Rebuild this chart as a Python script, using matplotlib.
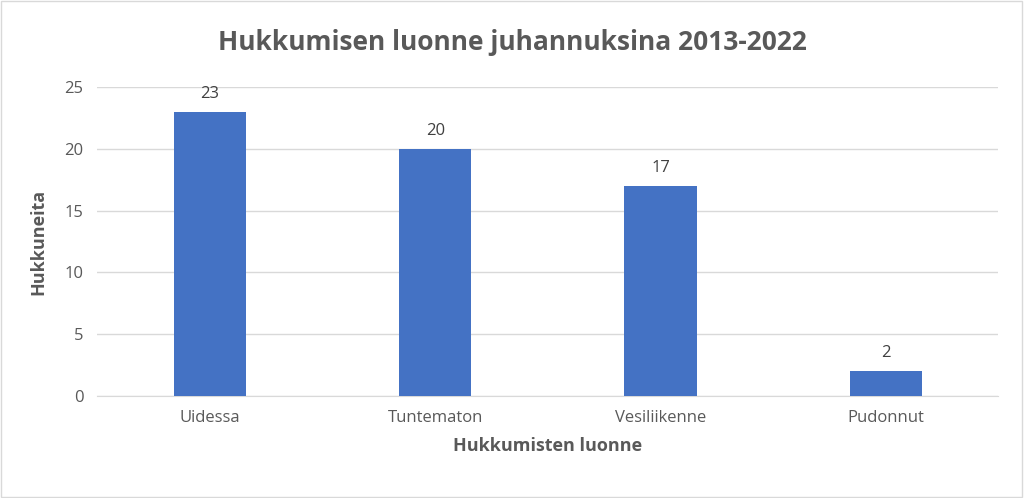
import matplotlib.pyplot as plt

categories = ["Uidessa", "Tuntematon", "Vesiliikenne", "Pudonnut"]
values = [23, 20, 17, 2]
yticks = [0, 5, 10, 15, 20, 25]

plt.rcParams['font.family'] = ['Open Sans', 'DejaVu Sans']

fig = plt.figure(figsize=(10.24, 4.98), dpi=100)
ax = fig.add_axes([0.095, 0.205, 0.88, 0.62])

x = range(len(categories))
ax.bar(x, values, width=0.32, color="#4472C4", zorder=3)
for i, v in zip(x, values):
    ax.text(i, v + 0.8, str(v), ha="center", va="bottom", fontsize=12, color="#404040")

ax.set_xlim(-0.5, 3.5)
ax.set_ylim(0, 25)
ax.set_yticks(yticks)
ax.set_xticks(list(x))
ax.set_xticklabels(categories)
ax.tick_params(axis="both", length=0, labelsize=12, colors="#595959", pad=10)
ax.grid(axis="y", color="#D9D9D9", linewidth=1, zorder=0)
for s in ["top", "right", "left"]:
    ax.spines[s].set_visible(False)
ax.spines["bottom"].set_color("#D9D9D9")

ax.set_ylabel("Hukkuneita", fontsize=13, fontweight="bold", color="#595959", labelpad=12)
ax.set_xlabel("Hukkumisten luonne", fontsize=13, fontweight="bold", color="#595959", labelpad=8)
fig.text(0.5, 0.915, "Hukkumisen luonne juhannuksina 2013-2022", ha="center", va="center",
         fontsize=19, fontweight="bold", color="#595959")

fig.patches.append(plt.Rectangle((0.001, 0.002), 0.997, 0.995, transform=fig.transFigure,
                                 fill=False, edgecolor="#D9D9D9", linewidth=1))
fig.savefig("out.png", dpi=100)
